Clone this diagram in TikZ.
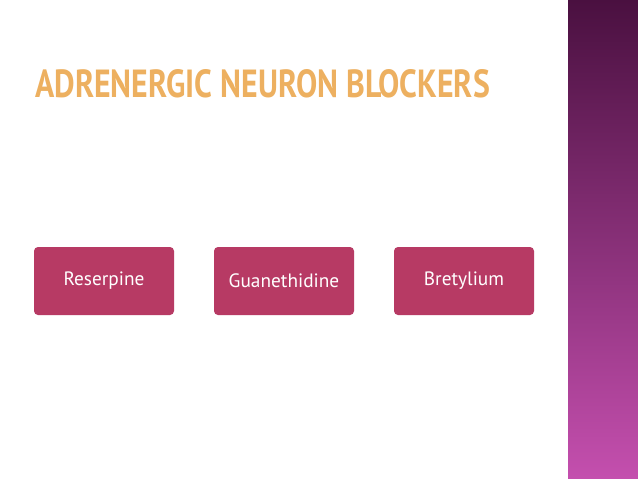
\documentclass[tikz,border=0pt]{standalone}
\usepackage{fontspec}
\setmainfont{PT Sans}
\usetikzlibrary{shadings}
\definecolor{boxc}{HTML}{B73A64}
\definecolor{titlec}{HTML}{EDB060}
\definecolor{bartop}{HTML}{4A1040}
\definecolor{barbot}{HTML}{C44FAE}
\tikzset{item/.style={fill=boxc,rounded corners=3pt,minimum width=105pt,minimum height=51pt,inner sep=0pt,text=white,font=\fontsize{14.5pt}{16pt}\selectfont}}
\begin{document}
\begin{tikzpicture}[x=0.75pt,y=-0.75pt]
\useasboundingbox (0,0) rectangle (638,478);
\fill[white] (0,0) rectangle (638,478);
\shade[top color=bartop,bottom color=barbot] (568,0) rectangle (638,478);
\node[anchor=west,inner sep=0pt,text=titlec] (title) at (35,84) {\resizebox{341pt}{21pt}{\bfseries ADRENERGIC NEURON BLOCKERS}};
\node[item] (r) at (104,281) {Reserpine};
\node[item] (g) at (284,281) {Guanethidine};
\node[item] (b) at (464,281) {Bretylium};
\end{tikzpicture}
\end{document}
